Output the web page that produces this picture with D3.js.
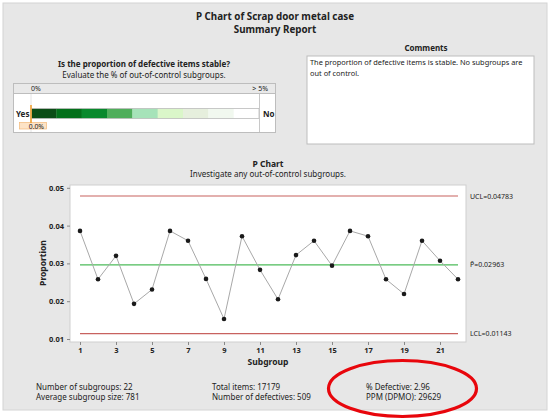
<!DOCTYPE html>
<html><head><meta charset="utf-8">
<script src="https://cdn.jsdelivr.net/npm/d3@7"></script>
<style>body{margin:0;background:#fff}svg{display:block}text{font-family:"Noto Sans",sans-serif;fill:#222}</style>
</head><body>
<script>
const subgroups = d3.range(1, 23);
const proportions = [0.0386,0.0258,0.0320,0.0193,0.0231,0.0386,0.0360,0.0259,0.0153,0.0372,0.0283,0.0205,0.0322,0.0360,0.0294,0.0386,0.0372,0.0258,0.0219,0.0360,0.0307,0.0258];
const UCL = 0.04783, PBAR = 0.02963, LCL = 0.01143;
const yTicks = [0.01, 0.02, 0.03, 0.04, 0.05];
const xTicks = [1,3,5,7,9,11,13,15,17,19,21];
const stabilityColors = ["#0b4d16","#03701a","#08892c","#4fae5b","#a6e3b9","#daf6c9","#e6efdd","#f1f8ef","#ffffff"];
const stats = [
  ["Number of subgroups: 22","Average subgroup size: 781"],
  ["Total items: 17179","Number of defectives: 509"],
  ["% Defective:  2.96","PPM (DPMO): 29629"]
];

const W=550,H=419;
const svg=d3.select("body").append("svg").attr("width",W).attr("height",H);
svg.append("rect").attr("x",3).attr("y",3).attr("width",544).attr("height",407).attr("fill","#e7e7e7").attr("stroke","#d4d4d4");

// Titles
svg.append("text").attr("x",275).attr("y",20).attr("text-anchor","middle").attr("font-size",9.8).attr("font-weight","bold").text("P Chart of Scrap door metal case");
svg.append("text").attr("x",275).attr("y",32.5).attr("text-anchor","middle").attr("font-size",9.8).attr("font-weight","bold").text("Summary Report");

// Stability panel
svg.append("text").attr("x",144).attr("y",67).attr("text-anchor","middle").attr("font-size",8).attr("font-weight","bold").text("Is the proportion of defective items stable?");
svg.append("text").attr("x",144).attr("y",77.5).attr("text-anchor","middle").attr("font-size",8).attr("fill","#333").text("Evaluate the % of out-of-control subgroups.");
svg.append("rect").attr("x",13.5).attr("y",83.5).attr("width",262).attr("height",49).attr("fill","#fff").attr("stroke","#bdbdbd");
svg.append("rect").attr("x",13.5).attr("y",83.5).attr("width",262).attr("height",10).attr("fill","#e9e9e9").attr("stroke","#bdbdbd");
svg.append("text").attr("x",31).attr("y",91.3).attr("font-size",7).attr("fill","#444").text("0%");
svg.append("text").attr("x",268).attr("y",91.3).attr("text-anchor","end").attr("font-size",7).attr("fill","#444").text("> 5%");
const sx=d3.scaleLinear().domain([0,stabilityColors.length]).range([31,259]);
svg.append("g").selectAll("rect").data(stabilityColors).join("rect")
  .attr("x",(d,i)=>sx(i)).attr("y",108.5).attr("width",(d,i)=>sx(i+1)-sx(i)+0.3).attr("height",10).attr("fill",d=>d);
svg.append("rect").attr("x",31).attr("y",108.5).attr("width",228).attr("height",10).attr("fill","none").attr("stroke","#bbb").attr("stroke-width",0.8);
svg.append("line").attr("x1",259.5).attr("x2",259.5).attr("y1",94).attr("y2",132).attr("stroke","#c8c8c8");
svg.append("line").attr("x1",31).attr("x2",31).attr("y1",94).attr("y2",132).attr("stroke","#e4e4e4");
svg.append("text").attr("x",16).attr("y",116.5).attr("font-size",8).attr("font-weight","bold").text("Yes");
svg.append("text").attr("x",263).attr("y",116.5).attr("font-size",8).attr("font-weight","bold").text("No");
svg.append("rect").attr("x",19.5).attr("y",122.5).attr("width",27).attr("height",6.5).attr("fill","#fde3c6").attr("stroke","#f2b878").attr("stroke-width",0.7);
svg.append("text").attr("x",44).attr("y",128.6).attr("text-anchor","end").attr("font-size",6.8).attr("fill","#555").text("0.0%");
svg.append("line").attr("x1",31).attr("x2",31).attr("y1",105).attr("y2",123).attr("stroke","#f0a030").attr("stroke-width",1.6);

// Comments
svg.append("text").attr("x",426).attr("y",50.5).attr("text-anchor","middle").attr("font-size",8).attr("font-weight","bold").text("Comments");
svg.append("rect").attr("x",307).attr("y",56).attr("width",227).attr("height",88).attr("fill","#fff").attr("stroke","#bdbdbd");
svg.append("text").attr("x",310).attr("y",65).attr("font-size",7.4).attr("fill","#333").text("The proportion of defective items is stable. No subgroups are");
svg.append("text").attr("x",310).attr("y",75.5).attr("font-size",7.4).attr("fill","#333").text("out of control.");

// P chart
const px0=70,px1=466,py0=185,py1=342;
svg.append("text").attr("x",268).attr("y",166.5).attr("text-anchor","middle").attr("font-size",8.5).attr("font-weight","bold").text("P Chart");
svg.append("text").attr("x",268).attr("y",176.5).attr("text-anchor","middle").attr("font-size",8).attr("fill","#333").text("Investigate any out-of-control subgroups.");
svg.append("rect").attr("x",px0).attr("y",py0).attr("width",px1-px0).attr("height",py1-py0).attr("fill","#fff").attr("stroke","#cfcfcf");
const x=d3.scaleLinear().domain([0.444,22.444]).range([px0,px1]);
const y=d3.scaleLinear().domain([0.00921,0.05074]).range([py1,py0]);

const ya=svg.append("g").attr("transform",`translate(${px0},0)`).call(d3.axisLeft(y).tickValues(yTicks).tickFormat(d3.format(".2f")).tickSize(3).tickSizeOuter(0));
ya.select(".domain").remove();
ya.selectAll("line").attr("stroke","#888");
ya.selectAll("text").attr("font-size",7.5).attr("font-weight","bold").attr("fill","#333").style("font-family","'Noto Sans',sans-serif");
const xa=svg.append("g").attr("transform",`translate(0,${py1})`).call(d3.axisBottom(x).tickValues(xTicks).tickFormat(d3.format("d")).tickSize(3).tickSizeOuter(0));
xa.select(".domain").remove();
xa.selectAll("line").attr("stroke","#888");
xa.selectAll("text").attr("font-size",7.5).attr("font-weight","bold").attr("fill","#333").style("font-family","'Noto Sans',sans-serif");

svg.append("text").attr("transform","translate(46,263) rotate(-90)").attr("text-anchor","middle").attr("font-size",8.5).attr("font-weight","bold").text("Proportion");
svg.append("text").attr("x",268).attr("y",365).attr("text-anchor","middle").attr("font-size",8.5).attr("font-weight","bold").text("Subgroup");

const limits=[{v:UCL,c:"#c8625f",label:"UCL=0.04783"},{v:PBAR,c:"#4cbb5a",label:"P̄=0.02963"},{v:LCL,c:"#c8625f",label:"LCL=0.01143"}];
limits.forEach(l=>{
  svg.append("line").attr("x1",x(1)).attr("x2",x(22)).attr("y1",y(l.v)).attr("y2",y(l.v)).attr("stroke",l.c).attr("stroke-width",1.2);
  svg.append("text").attr("x",470).attr("y",y(l.v)+2.5).attr("font-size",7).attr("fill","#333").text(l.label);
});

const pts=subgroups.map((s,i)=>({s,v:proportions[i]}));
svg.append("path").datum(pts).attr("fill","none").attr("stroke","#a8a8a8").attr("stroke-width",1)
  .attr("d",d3.line().x(d=>x(d.s)).y(d=>y(d.v)));
svg.append("g").selectAll("circle").data(pts).join("circle").attr("cx",d=>x(d.s)).attr("cy",d=>y(d.v)).attr("r",2.3).attr("fill","#1a1a1a");

// Stats
const statX=[36,212,366];
stats.forEach((col,i)=>col.forEach((t,j)=>{
  svg.append("text").attr("x",statX[i]).attr("y",390+j*9.7).attr("font-size",8).attr("fill","#333").text(t);
}));

// Highlight ellipse
svg.append("ellipse").attr("cx",402.5).attr("cy",388.5).attr("rx",74).attr("ry",28).attr("fill","none").attr("stroke","#e8060c").attr("stroke-width",3.2);
</script>
</body></html>
